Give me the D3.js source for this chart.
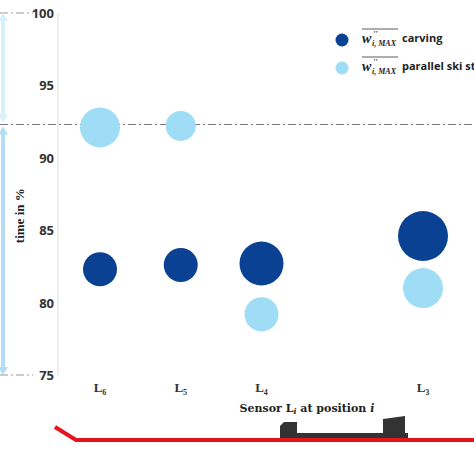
<!DOCTYPE html>
<html>
<head>
<script src="https://d3js.org/d3.v7.min.js"></script>
<style>body{margin:0;background:#fff}</style>
</head>
<body>
<script>
const sensors = ['6', '5', '4', '3'];
const slot = [0, 1, 2, 4];
const carving = [82.3, 82.6, 82.7, 84.6];
const carvingR = [17, 17, 22, 25];
const parallel = [92.1, 92.2, 79.2, 81.0];
const parallelR = [20, 15, 17, 20];
const yTicks = [75, 80, 85, 90, 95, 100];
const refLine = 92.3;

const dark = '#0b4192', light = '#9fdcf5';
const svg = d3.select('body').append('svg').attr('width', 474).attr('height', 474)
    .style('font-family', 'Liberation Serif, serif');

const x = d3.scaleLinear().domain([0, 4]).range([100, 423]);
const y = d3.scaleLinear().domain([75, 100]).range([375, 13]);

// axis line
svg.append('line').attr('x1', 58).attr('x2', 58).attr('y1', y(100)).attr('y2', y(75))
    .attr('stroke', '#ddd');
svg.selectAll('.tick').data(yTicks).join('text')
    .attr('x', 54).attr('y', d => y(d) + 5).attr('text-anchor', 'end')
    .attr('font-family', 'Open Sans, sans-serif').attr('font-weight', 'bold')
    .attr('font-size', 13).attr('fill', '#333').text(d => d);

// dash-dot lines
const dash = '8,3,2,3';
svg.append('line').attr('x1', 0).attr('x2', 474).attr('y1', y(refLine)).attr('y2', y(refLine))
    .attr('stroke', '#777').attr('stroke-dasharray', dash);
[100, 75].forEach(v => svg.append('line').attr('x1', 0).attr('x2', 33)
    .attr('y1', y(v)).attr('y2', y(v)).attr('stroke', '#999').attr('stroke-dasharray', dash));

// arrows on the left
function arrow(y1, y2, col) {
    svg.append('line').attr('x1', 3).attr('x2', 3).attr('y1', y1 + 6).attr('y2', y2 - 6)
        .attr('stroke', col).attr('stroke-width', 4);
    svg.append('path').attr('d', `M-2,${y1 + 8}L3,${y1}L8,${y1 + 8}Z`).attr('fill', col);
    svg.append('path').attr('d', `M-2,${y2 - 8}L3,${y2}L8,${y2 - 8}Z`).attr('fill', col);
}
arrow(y(100), y(refLine) - 2, '#d6f1fc');
arrow(y(refLine) + 2, y(75), '#b3dcf5');

svg.append('text').attr('transform', `translate(24,${y(86)}) rotate(-90)`)
    .attr('text-anchor', 'middle').attr('font-weight', 'bold').attr('font-size', 13)
    .attr('fill', '#222').text('time in %');

// bubbles
svg.selectAll('.p').data(parallel).join('circle')
    .attr('cx', (d, i) => x(slot[i])).attr('cy', d => y(d)).attr('r', (d, i) => parallelR[i])
    .attr('fill', light);
svg.selectAll('.c').data(carving).join('circle')
    .attr('cx', (d, i) => x(slot[i])).attr('cy', d => y(d)).attr('r', (d, i) => carvingR[i])
    .attr('fill', dark);

// sensor labels
sensors.forEach((s, i) => {
    const t = svg.append('text').attr('x', x(slot[i])).attr('y', 392).attr('text-anchor', 'middle')
        .attr('font-weight', 'bold').attr('font-size', 13).attr('fill', '#333');
    t.append('tspan').text('L');
    t.append('tspan').attr('font-size', 8).attr('dy', 3).text(s);
});
const xl = svg.append('text').attr('x', 307).attr('y', 412).attr('text-anchor', 'middle')
    .attr('font-family', 'DejaVu Serif, serif').attr('font-weight', 'bold').attr('font-size', 11).attr('fill', '#222');
xl.append('tspan').text('Sensor L');
xl.append('tspan').attr('font-size', 8).attr('dy', 2).attr('font-style', 'italic').text('i');
xl.append('tspan').attr('dy', -2).text(' at position ');
xl.append('tspan').attr('font-style', 'italic').text('i');

// ski
svg.append('path').attr('d', 'M55,427L76,440L474,440').attr('fill', 'none')
    .attr('stroke', '#e8141b').attr('stroke-width', 4);
svg.append('rect').attr('x', 280).attr('y', 433).attr('width', 128).attr('height', 5).attr('fill', '#333');
svg.append('path').attr('d', 'M280,426L284,422L297,422L297,433L280,433Z').attr('fill', '#333');
svg.append('path').attr('d', 'M383,419L405,416L405,433L383,433Z').attr('fill', '#333');

// legend
const leg = [['carving', dark], ['parallel ski steering', light]];
leg.forEach(([lab, col], i) => {
    const ly = 40 + i * 28;
    svg.append('circle').attr('cx', 342).attr('cy', ly).attr('r', 6.5).attr('fill', col);
    const g = svg.append('g').attr('fill', '#222').attr('font-weight', 'bold').attr('font-style', 'italic');
    g.append('text').attr('x', 362).attr('y', ly + 3).attr('font-size', 14).text('w');
    g.append('text').attr('x', 373).attr('y', ly - 3).attr('font-size', 8).text("''");
    g.append('text').attr('x', 372).attr('y', ly + 6).attr('font-size', 8).text('i, MAX');
    svg.append('line').attr('x1', 362).attr('x2', 398).attr('y1', ly - 11).attr('y2', ly - 11)
        .attr('stroke', '#333').attr('stroke-width', 0.8);
    svg.append('text').attr('x', 402).attr('y', ly + 2).attr('font-family', 'Open Sans, sans-serif')
        .attr('font-weight', 'bold').attr('font-size', 11).attr('fill', '#222').text(lab);
});
</script>
</body>
</html>
